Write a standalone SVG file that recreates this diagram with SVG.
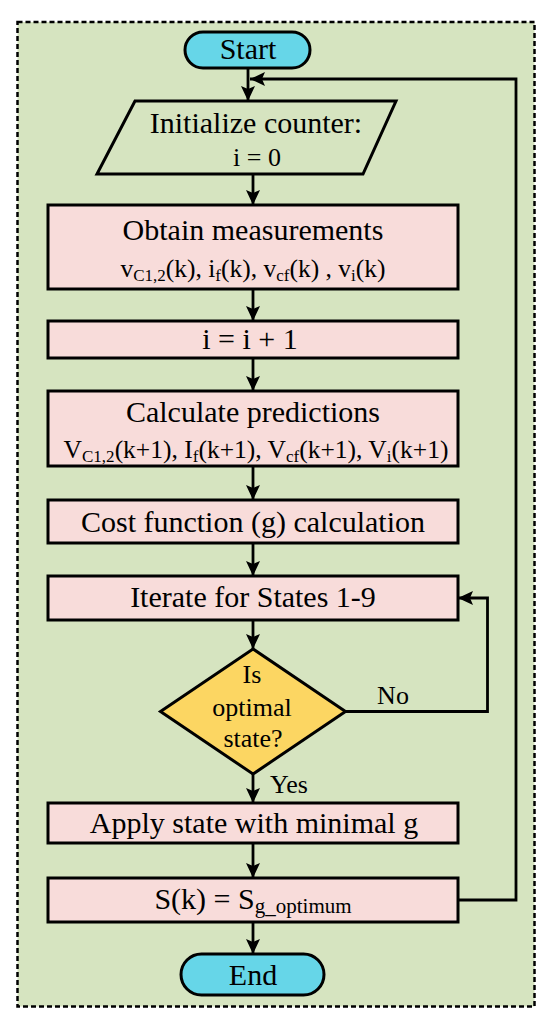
<svg xmlns="http://www.w3.org/2000/svg" width="550" height="1021" viewBox="0 0 550 1021">
<style>
.t{font-family:"Liberation Serif","Times New Roman",serif;fill:#000;text-anchor:middle}
.f30{font-size:30px}
.f26{font-size:26px}
.f25{font-size:25.5px}
.box{fill:#f8dcda;stroke:#000;stroke-width:3}
.term{fill:#66d6e8;stroke:#000;stroke-width:3}
.dec{fill:#fcd662;stroke:#000;stroke-width:3}
.con{fill:none;stroke:#000;stroke-width:2.8}
</style>
<defs>
<marker id="ah" viewBox="0 0 15 14" refX="15" refY="7" markerWidth="15" markerHeight="14" markerUnits="userSpaceOnUse" orient="auto">
<path d="M0,0 L15,7 L0,14 L3,7 Z" fill="#000"/>
</marker>
</defs>
<rect x="17.5" y="22" width="517" height="984.5" fill="#d6e4c0" stroke="#000" stroke-width="2.5" stroke-dasharray="5 3"/>
<g id="connectors">
<path class="con" d="M248,68 V101" marker-end="url(#ah)"/>
<path class="con" d="M253,174 V205" marker-end="url(#ah)"/>
<path class="con" d="M253,289 V321" marker-end="url(#ah)"/>
<path class="con" d="M253,358 V391" marker-end="url(#ah)"/>
<path class="con" d="M253,466 V500" marker-end="url(#ah)"/>
<path class="con" d="M253,543 V576" marker-end="url(#ah)"/>
<path class="con" d="M253,620 V649" marker-end="url(#ah)"/>
<path class="con" d="M253,774 V803" marker-end="url(#ah)"/>
<path class="con" d="M253,843 V878" marker-end="url(#ah)"/>
<path class="con" d="M253,922 V954" marker-end="url(#ah)"/>
<path class="con" d="M345.5,711.5 H487.5 V598 H458" marker-end="url(#ah)"/>
<path class="con" d="M458,900 H516 V79 H250" marker-end="url(#ah)"/>
<text class="t f26" x="393" y="704">No</text>
<text class="t f26" x="289" y="793">Yes</text>
</g>
<g id="start">
<rect class="term" x="185" y="32" width="125" height="36" rx="18"/>
<text class="t f30" x="248" y="59">Start</text>
</g>
<g id="init">
<polygon class="box" points="135,101 396,101 363,174 97,174" style="fill:#d6e4c0"/>
<text class="t f30" x="256" y="133">Initialize counter:</text>
<text class="t f26" x="257" y="166">i = 0</text>
</g>
<g id="measure">
<rect class="box" x="48" y="205" width="410" height="84"/>
<text class="t f30" x="253" y="240">Obtain measurements</text>
<text class="t f25" x="253" y="277">v<tspan font-size="17" dy="4">C1,2</tspan><tspan dy="-4">(k), i</tspan><tspan font-size="17" dy="4">f</tspan><tspan dy="-4">(k), v</tspan><tspan font-size="17" dy="4">cf</tspan><tspan dy="-4">(k) , v</tspan><tspan font-size="17" dy="4">i</tspan><tspan dy="-4">(k)</tspan></text>
</g>
<g id="increment">
<rect class="box" x="48" y="321" width="410" height="37"/>
<text class="t f30" x="250" y="349">i = i + 1</text>
</g>
<g id="predict">
<rect class="box" x="48" y="391" width="410" height="75"/>
<text class="t f30" x="253" y="422">Calculate predictions</text>
<text class="t f25" x="256" y="458">V<tspan font-size="17" dy="4">C1,2</tspan><tspan dy="-4">(k+1), I</tspan><tspan font-size="17" dy="4">f</tspan><tspan dy="-4">(k+1), V</tspan><tspan font-size="17" dy="4">cf</tspan><tspan dy="-4">(k+1), V</tspan><tspan font-size="17" dy="4">i</tspan><tspan dy="-4">(k+1)</tspan></text>
</g>
<g id="cost">
<rect class="box" x="48" y="500" width="410" height="43"/>
<text class="t f30" x="253" y="532">Cost function (g) calculation</text>
</g>
<g id="iterate">
<rect class="box" x="48" y="576" width="410" height="44"/>
<text class="t f30" x="253" y="607">Iterate for States 1-9</text>
</g>
<g id="decision">
<polygon class="dec" points="253,649 345.5,711.5 253,774 160.5,711.5"/>
<text class="t f26" x="252" y="683">Is</text>
<text class="t f26" x="252" y="716">optimal</text>
<text class="t f26" x="253" y="747">state?</text>
</g>
<g id="apply">
<rect class="box" x="48" y="803" width="410" height="40"/>
<text class="t f30" x="254" y="833">Apply state with minimal g</text>
</g>
<g id="assign">
<rect class="box" x="48" y="878" width="410" height="44"/>
<text class="t f30" x="253" y="909">S(k) = S<tspan font-size="21" dy="4">g_optimum</tspan></text>
</g>
<g id="end">
<rect class="term" x="181" y="954" width="143" height="41" rx="20.5"/>
<text class="t f30" x="253" y="985">End</text>
</g>
</svg>
